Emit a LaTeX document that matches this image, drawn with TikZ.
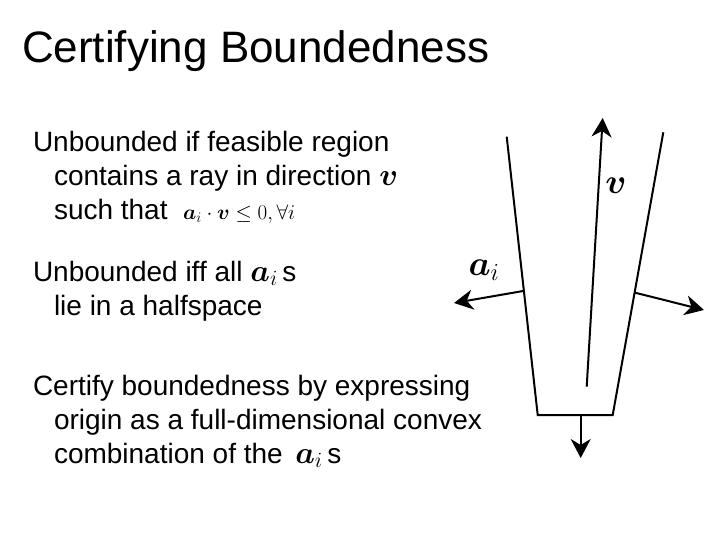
\RequirePackage{fix-cm}
\documentclass[tikz,border=0pt]{standalone}
\usepackage{amsmath}
\usepackage{bm}
\usepackage{fontspec}
\setmainfont{Liberation Sans}
\usetikzlibrary{arrows.meta,calc}

\newcommand{\bigmath}[1]{{\fontsize{31}{34}\selectfont$#1$}}
\tikzset{
  body/.style={anchor=base west, inner sep=0pt, font=\fontsize{28}{34}\selectfont},
  lab/.style={font=\fontsize{35}{38}\selectfont},
  ray/.style={line width=2pt, -{Stealth[length=19pt,width=20pt,inset=6pt]}},
}

\begin{document}
\begin{tikzpicture}[x=1pt,y=-1pt,line width=2pt]
\useasboundingbox (0,0) rectangle (720,540);
% 标题
\node[body, font=\fontsize{44}{50}\selectfont] (title) at (21,63) {Certifying Boundedness};
% 第一段
\node[body] (p1a) at (32,152) {Unbounded if feasible region};
\node[body] (p1b) at (53,186) {contains a ray in direction \bigmath{\bm{v}}};
\node[body] (p1c) at (53,219) {such that \ {\fontsize{21}{24}\selectfont$\bm{a}_i\cdot\bm{v}\le 0,\forall i$}};
% 第二段
\node[body] (p2a) at (32,281) {Unbounded iff all \bigmath{\bm{a}_i}\,s};
\node[body] (p2b) at (53,315) {lie in a halfspace};
% 第三段
\node[body] (p3a) at (32,395) {Certify boundedness by expressing};
\node[body] (p3b) at (53,429) {origin as a full-dimensional convex};
\node[body] (p3c) at (53,463) {combination of the \,\bigmath{\bm{a}_i}\,s};
% 可行域（无界锥）
\coordinate (tl) at (506.7,136.7);
\coordinate (bl) at (537.7,415);
\coordinate (br) at (612.7,415);
\coordinate (tr) at (663.3,132.3);
\draw (tl) -- (bl) -- (br) -- (tr);
% 方向 v
\coordinate (v0) at (586.7,386.7);
\coordinate (v1) at (602.7,118);
\draw[ray] (v0) -- (v1);
\node[lab] (vlab) at (616,186) {$\bm{v}$};
% 法向量 a_i
\coordinate (nl0) at ($(tl)!0.554!(bl)$);
\coordinate (nl1) at (454,303);
\draw[ray] (nl0) -- (nl1);
\node[lab] (alab) at (484,270) {$\bm{a}_i$};
\coordinate (nr0) at ($(tr)!0.567!(br)$);
\coordinate (nr1) at (704,310);
\draw[ray] (nr0) -- (nr1);
\coordinate (nb0) at (580.7,415);
\coordinate (nb1) at (580.7,458);
\draw[ray] (nb0) -- (nb1);
\end{tikzpicture}
\end{document}
